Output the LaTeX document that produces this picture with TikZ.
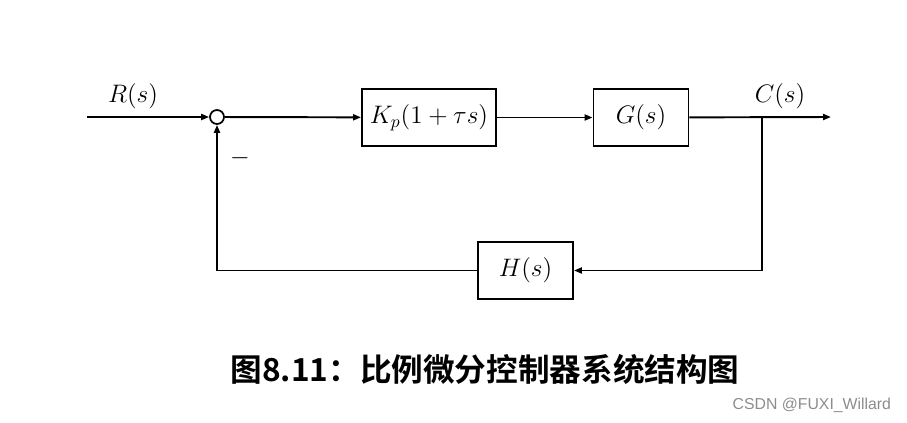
\documentclass[tikz,border=0pt]{standalone}
\usepackage{fontspec}
\usepackage{amsmath}
\usetikzlibrary{arrows.meta}
\newfontfamily\cjkbold{Noto Sans CJK SC Bold}
\newfontfamily\markfont{Liberation Sans}

\begin{document}
\begin{tikzpicture}[x=0.02cm,y=-0.02cm,line width=1.1pt,>={Triangle[length=1.6mm,width=1.2mm]}]
\tikzstyle{every node}+=[font=\fontsize{14}{16}\selectfont]
\tikzstyle{block}=[draw,minimum width=1.9cm,minimum height=1.14cm,inner sep=0pt]
\tikzstyle{sumnode}=[draw,circle,minimum size=0.28cm,inner sep=0pt,line width=1pt]
\useasboundingbox (0,0) rectangle (907,423);
\node [sumnode] (sum) at (217,117) {};
\node [block,minimum width=2.68cm] (kp) at (429,117.5) {$K_p(1+\tau s)$};
\node [block] (g) at (641,117.5) {$G(s)$};
\node [block] (h) at (525.5,270.5) {$H(s)$};
\coordinate (in) at (87,117);
\coordinate (branch) at (762,117);
\coordinate (out) at (831,117);
\draw [->] (in) -- (sum);
\draw [->] (sum) -- (kp);
\draw [->] (kp) -- (g);
\draw [->] (g) -- (out);
\draw [->] (branch) |- (h);
\draw [->] (h) -| (sum);
\draw (133,96) node {$R(s)$};
\draw (780,96) node {$C(s)$};
\draw (240,158) node {$-$};
\draw (485,369) node [font=\cjkbold\fontsize{18}{20}\selectfont] {图8.11：比例微分控制器系统结构图};
\draw (892,405) node [anchor=east,inner sep=0pt,text=black!45,font=\markfont\fontsize{9}{11}\selectfont] {CSDN @FUXI\_Willard};
\end{tikzpicture}
\end{document}
